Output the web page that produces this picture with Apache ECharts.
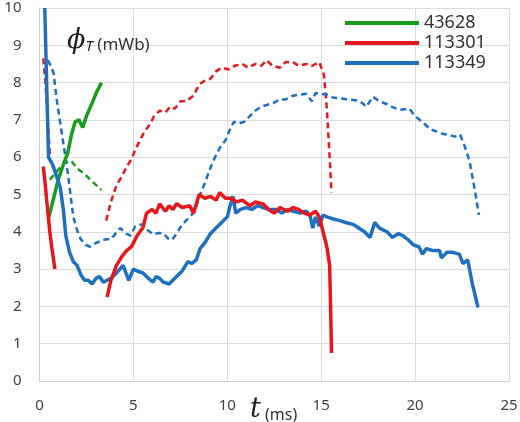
<!DOCTYPE html>
<html>
<head>
    <meta charset="utf-8">
    <script src="https://cdn.jsdelivr.net/npm/echarts@6/dist/echarts.min.js"></script>
    <style>
        html, body { margin: 0; padding: 0; background: #fff; }
    </style>
</head>
<body>
	<div id="main" style="width: 520px; height: 422px;"></div>
	<script type="text/javascript">
		var shots = ['43628', '113301', '113349']
		var xTicks = [0, 5, 10, 15, 20, 25]
		var yTicks = [0, 1, 2, 3, 4, 5, 6, 7, 8, 9, 10]

		// shot 43628
		var green_solid = [[0.5,4.4],[0.8,5.0],[1.0,5.4],[1.3,5.85],[1.5,6.1],[1.7,6.6],[1.9,6.95],[2.1,7.0],[2.3,6.8],[2.5,7.1],[2.8,7.45],[3.0,7.7],[3.3,8.0]]
		var green_dash = [[0.55,5.4],[0.9,5.6],[1.3,5.85],[1.7,5.9],[2.0,5.7],[2.4,5.55],[2.8,5.35],[3.3,5.12]]

		// shot 113301
		var red_solid_a = [[0.2,5.75],[0.3,5.3],[0.45,4.5],[0.55,4.0],[0.65,3.6],[0.82,3.0]]
		var red_solid_b = [[3.6,2.25],[3.8,2.7],[4.1,3.1],[4.4,3.35],[4.65,3.5],[4.9,3.6],[5.2,3.9],[5.5,4.1],[5.7,4.5],[6.0,4.6],[6.2,4.5],[6.4,4.75],[6.7,4.55],[6.9,4.7],[7.1,4.6],[7.3,4.75],[7.6,4.65],[8.0,4.7],[8.2,4.5],[8.5,5.0],[8.8,4.9],[9.1,4.95],[9.4,4.85],[9.6,5.05],[9.9,4.9],[10.2,4.9],[10.5,4.8],[10.8,4.85],[11.2,4.7],[11.5,4.8],[11.9,4.75],[12.2,4.6],[12.5,4.5],[12.8,4.65],[13.2,4.55],[13.5,4.65],[13.8,4.6],[14.1,4.5],[14.4,4.45],[14.7,4.55],[14.9,4.4],[15.1,4.0],[15.3,3.6],[15.45,3.1],[15.5,2.0],[15.55,0.75]]
		var red_dash_a = [[0.2,8.65],[0.3,8.1],[0.38,7.5],[0.46,6.8],[0.56,6.0]]
		var red_dash_b = [[3.55,4.3],[3.8,4.8],[4.1,5.25],[4.4,5.5],[4.65,5.75],[4.9,5.95],[5.1,6.2],[5.35,6.45],[5.55,6.65],[5.9,6.9],[6.1,7.1],[6.4,7.25],[6.7,7.2],[6.95,7.35],[7.2,7.3],[7.5,7.5],[7.8,7.5],[8.2,7.65],[8.5,7.95],[8.8,8.05],[9.1,8.1],[9.4,8.3],[9.7,8.4],[10.1,8.35],[10.4,8.45],[10.8,8.5],[11.1,8.4],[11.5,8.5],[11.8,8.45],[12.1,8.6],[12.4,8.45],[12.8,8.4],[13.1,8.55],[13.5,8.55],[13.8,8.45],[14.2,8.5],[14.5,8.45],[14.9,8.55],[15.15,8.2],[15.3,7.3],[15.45,6.0],[15.55,5.05]]

		// shot 113349
		var blue_solid = [[0.28,10],[0.33,9.0],[0.38,8.0],[0.43,7.0],[0.48,6.0],[0.7,5.8],[0.9,5.5],[1.1,5.2],[1.27,4.6],[1.4,3.9],[1.6,3.45],[1.8,3.2],[2.0,3.1],[2.2,2.85],[2.4,2.7],[2.6,2.7],[2.8,2.6],[3.0,2.75],[3.2,2.8],[3.4,2.65],[3.6,2.7],[3.8,2.75],[4.0,2.85],[4.2,2.95],[4.45,3.1],[4.6,2.9],[4.75,2.7],[5.0,3.0],[5.2,2.95],[5.5,2.9],[5.8,2.75],[6.05,2.65],[6.2,2.8],[6.4,2.75],[6.6,2.65],[6.9,2.6],[7.1,2.7],[7.3,2.8],[7.6,2.95],[7.9,3.2],[8.1,3.15],[8.35,3.25],[8.55,3.55],[8.8,3.7],[9.1,3.95],[9.4,4.1],[9.7,4.25],[10.0,4.4],[10.15,4.7],[10.3,4.95],[10.45,4.5],[10.7,4.6],[11.0,4.65],[11.3,4.6],[11.6,4.7],[11.9,4.65],[12.2,4.6],[12.6,4.6],[12.9,4.5],[13.2,4.6],[13.5,4.55],[13.9,4.5],[14.2,4.55],[14.4,4.45],[14.55,4.1],[14.7,4.4],[14.9,4.15],[15.1,4.45],[15.3,4.4],[15.6,4.35],[16.0,4.3],[16.3,4.25],[16.7,4.2],[17.0,4.1],[17.3,4.0],[17.6,3.85],[17.85,4.25],[18.1,4.1],[18.5,4.0],[18.8,3.85],[19.1,3.95],[19.35,3.9],[19.6,3.8],[19.9,3.65],[20.2,3.6],[20.4,3.4],[20.6,3.55],[20.9,3.5],[21.1,3.5],[21.3,3.5],[21.4,3.3],[21.7,3.45],[22.0,3.45],[22.35,3.4],[22.55,3.15],[22.8,3.25],[23.05,2.6],[23.35,1.97]]
		var blue_dash = [[0.45,8.6],[0.6,8.45],[0.75,8.25],[0.9,7.6],[1.05,7.1],[1.2,6.6],[1.35,6.1],[1.5,5.6],[1.65,5.0],[1.8,4.4],[2.0,4.05],[2.2,3.8],[2.45,3.65],[2.7,3.6],[3.0,3.7],[3.25,3.75],[3.55,3.8],[3.8,3.8],[4.05,3.95],[4.3,4.1],[4.6,3.95],[4.85,3.9],[5.1,4.15],[5.45,4.2],[5.75,4.05],[6.05,3.93],[6.35,3.97],[6.6,3.95],[6.85,3.82],[7.05,3.78],[7.3,3.95],[7.5,4.12],[7.8,4.3],[8.1,4.45],[8.3,4.6],[8.55,5.0],[8.8,5.3],[9.05,5.65],[9.3,5.95],[9.6,6.25],[9.9,6.45],[10.15,6.75],[10.35,6.95],[10.6,6.9],[10.9,6.95],[11.2,7.1],[11.5,7.25],[11.8,7.35],[12.1,7.4],[12.45,7.45],[12.8,7.55],[13.1,7.55],[13.5,7.65],[13.9,7.68],[14.2,7.7],[14.5,7.5],[14.7,7.72],[15.0,7.7],[15.3,7.68],[15.6,7.6],[16.0,7.58],[16.4,7.55],[16.9,7.52],[17.2,7.45],[17.4,7.35],[17.75,7.62],[18.1,7.5],[18.5,7.42],[18.9,7.32],[19.2,7.27],[19.7,7.3],[20.0,7.1],[20.3,6.98],[20.6,6.85],[20.8,6.75],[21.1,6.7],[21.5,6.62],[21.8,6.6],[22.1,6.55],[22.4,6.6],[22.6,6.35],[22.9,5.9],[23.15,5.2],[23.4,4.45]]

		var green = '#179c1e', red = '#e8161b', blue = '#1f6fc1'
		var fontFam = '"Noto Sans", "Open Sans", sans-serif'

		function solid(name, data, color) {
			return {
				name: name, type: 'line', data: data, symbol: 'none', color: color,
				lineStyle: { color: color, width: 3.5 }, z: 3, animation: false
			}
		}
		function dashed(name, data, color) {
			return {
				name: name, type: 'line', data: data, symbol: 'none', color: color,
				lineStyle: { color: color, width: 2.5, type: [6, 4] }, z: 2, animation: false
			}
		}

		var myChart = echarts.init(document.getElementById('main'))
		var option = {
			backgroundColor: '#fff',
			textStyle: { fontFamily: fontFam },
			title: [{
				// y axis name
				left: 62, top: 22,
				text: '{a|ϕ}{b|T}{c| (mWb)}',
				textStyle: {
					fontWeight: 'normal',
					rich: {
						a: { fontSize: 27, fontStyle: 'italic', fontWeight: 'normal', color: '#222', fontFamily: 'DejaVu Serif', verticalAlign: 'bottom' },
						b: { fontSize: 15, fontStyle: 'italic', fontWeight: 'normal', color: '#222', verticalAlign: 'bottom' },
						c: { fontSize: 17, fontWeight: 'normal', color: '#333', verticalAlign: 'bottom' }
					}
				}
			}, {
				// x axis name
				left: 245, top: 391,
				text: '{t|t}{u| (ms)}',
				textStyle: {
					fontWeight: 'normal',
					rich: {
						t: { fontSize: 27, fontStyle: 'italic', fontWeight: 'normal', color: '#222', fontFamily: 'DejaVu Serif', verticalAlign: 'bottom' },
						u: { fontSize: 16, fontWeight: 'normal', color: '#333', verticalAlign: 'bottom' }
					}
				}
			}],
			legend: {
				data: shots,
				orient: 'vertical',
				left: 345, top: 14,
				padding: 0,
				icon: 'rect',
				itemWidth: 74, itemHeight: 4,
				itemGap: 2,
				textStyle: { fontSize: 18, color: '#333' }
			},
			grid: { left: 39.5, right: 11, top: 8, bottom: 41, outerBoundsMode: 'none' },
			xAxis: {
				type: 'value', min: xTicks[0], max: xTicks[xTicks.length - 1], interval: 5,
				axisLine: { show: true, lineStyle: { color: '#d0d0d0' } },
				axisTick: { show: false },
				axisLabel: { fontSize: 15, color: '#404040', margin: 17 },
				splitLine: { show: true, lineStyle: { color: '#dcdcdc', width: 1 } }
			},
			yAxis: {
				type: 'value', min: yTicks[0], max: yTicks[yTicks.length - 1], interval: 1,
				axisLine: { show: true, lineStyle: { color: '#d0d0d0' } },
				axisTick: { show: false },
				axisLabel: { fontSize: 15, color: '#404040', margin: 18 },
				splitLine: { show: true, lineStyle: { color: '#dcdcdc', width: 1 } }
			},
			series: [
				solid(shots[0], green_solid, green),
				solid(shots[1], red_solid_a, red),
				solid(shots[2], blue_solid, blue),
				solid(shots[1], red_solid_b, red),
				dashed(shots[0], green_dash, green),
				dashed(shots[1], red_dash_a, red),
				dashed(shots[1], red_dash_b, red),
				dashed(shots[2], blue_dash, blue)
			]
		}
		myChart.setOption(option)
	</script>
</body>
</html>
